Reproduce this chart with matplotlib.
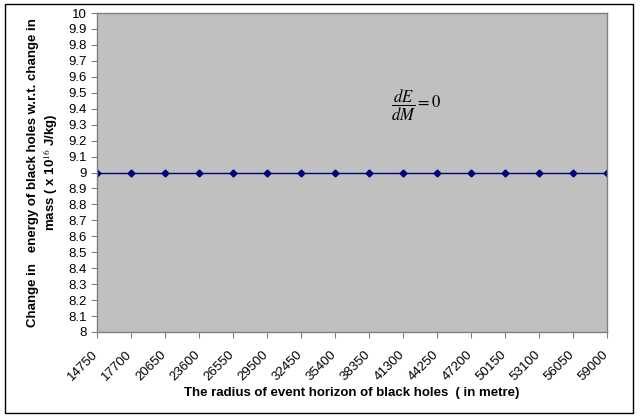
import matplotlib
matplotlib.use('Agg')
import matplotlib.pyplot as plt
from matplotlib.patches import Rectangle
from matplotlib.transforms import ScaledTranslation

# data
radius = [14750, 17700, 20650, 23600, 26550, 29500, 32450, 35400,
          38350, 41300, 44250, 47200, 50150, 53100, 56050, 59000]
dE_dM = [9, 9, 9, 9, 9, 9, 9, 9, 9, 9, 9, 9, 9, 9, 9, 9]
y_ticks = [8 + 0.1 * i for i in range(21)]

plt.rcParams['font.family'] = ['Liberation Sans', 'DejaVu Sans']
plt.rcParams['mathtext.fontset'] = 'stix'

fig = plt.figure(figsize=(6.4, 4.16), dpi=100)
W, H = 640, 416
ax = fig.add_axes([97 / W, 1 - 332 / H, (607 - 97) / W, (332 - 13) / H])
ax.set_facecolor('#c0c0c0')

xs = list(range(len(radius)))
ax.plot(xs, dE_dM, color='#000080', linewidth=1.0, marker='D', markersize=3.5,
        markerfacecolor='#000080', markeredgecolor='#000080')

ax.set_xlim(0, len(radius) - 1)
ax.set_ylim(8, 10)
ax.set_xticks(xs)
ax.set_xticklabels([str(r) for r in radius], rotation=45, ha='right',
                   rotation_mode='anchor', fontsize=9.5)
ax.set_yticks(y_ticks)
ax.set_yticklabels(['{:g}'.format(round(v, 1)) for v in y_ticks], fontsize=9.5)
ax.tick_params(axis='both', direction='out', length=4, width=0.8, color='#808080')
ax.tick_params(axis='x', pad=8)
# shift rotated labels a bit left of their ticks
shift = ScaledTranslation(-5 / 100, 0, fig.dpi_scale_trans)
for lbl in ax.get_xticklabels():
    lbl.set_transform(lbl.get_transform() + shift)
for s in ax.spines.values():
    s.set_color('#808080')
    s.set_linewidth(1.0)

ax.text(9.38, 9.42, r'$\dfrac{dE}{dM}=0$', fontsize=12, ha='center', va='center')

ax.set_xlabel('The radius of event horizon of black holes  ( in metre)',
              fontsize=9.5, fontweight='bold', labelpad=3)
ax.set_ylabel('Change in   energy of black holes w.r.t. change in\nmass ( x 10$^{16}$ J/kg)',
              fontsize=9.5, fontweight='bold', labelpad=6, linespacing=1.15)

# outer chart border
fig.patches.append(Rectangle((5 / W, 3 / H), 628 / W, 409 / H, transform=fig.transFigure,
                             fill=False, edgecolor='black', linewidth=1.0))

fig.savefig('out.png', dpi=100)
